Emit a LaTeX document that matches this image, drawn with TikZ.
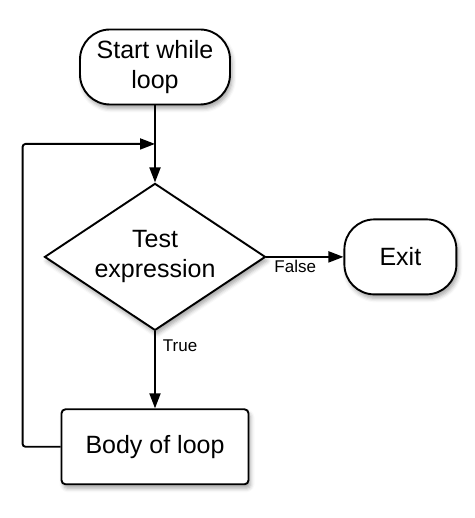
\documentclass[tikz,border=0pt]{standalone}
\usepackage{fontspec}
\setmainfont{Liberation Sans}
\usetikzlibrary{shapes.geometric, arrows.meta, positioning, shadows.blur, calc}

\begin{document}
\begin{tikzpicture}[
    x=1pt, y=1pt,
    node distance=77pt,
    shade/.style={blur shadow={shadow xshift=2pt, shadow yshift=-4pt, shadow blur radius=4pt, shadow opacity=35}},
    terminal/.style={rectangle, rounded corners=30pt, draw=black, line width=1.9pt, fill=white, minimum height=75pt, align=center, font=\fontsize{25}{30}\selectfont, shade},
    decision/.style={diamond, draw=black, line width=1.9pt, fill=white, minimum width=221pt, minimum height=147pt, inner sep=0pt, shape aspect=1.5, align=center, font=\fontsize{25}{30}\selectfont, shade},
    process/.style={rectangle, rounded corners=4pt, draw=black, line width=1.9pt, fill=white, minimum width=187pt, minimum height=75pt, align=center, font=\fontsize{25}{30}\selectfont, shade},
    lbl/.style={font=\fontsize{17}{20}\selectfont, inner sep=1pt},
    arrow/.style={-{Triangle[length=15pt, width=11pt]}, line width=1.9pt}
]
    \useasboundingbox (0,0) rectangle (474,518);

    \node[terminal, minimum width=150pt] (start) at (155,451) {Start while\\loop};
    \node[decision, below=of start] (test) {Test\\expression};
    \node[terminal, minimum width=112pt, right=of test] (exit) {Exit};
    \node[process, below=of test] (body) {Body of loop};
    \coordinate (join) at ($(start.south)!0.5!(test.north)$);

    \draw[arrow] (start) -- (test);
    \draw[arrow] (test) -- node[lbl, pos=0, anchor=north west, xshift=6pt, yshift=-1pt] {False} (exit);
    \draw[arrow] (test) -- node[lbl, pos=0, anchor=north west, xshift=6pt, yshift=-7pt] {True} (body);
    \draw[arrow, rounded corners=3pt] (body.west) -- ++(-38,0) |- (join);
\end{tikzpicture}
\end{document}
